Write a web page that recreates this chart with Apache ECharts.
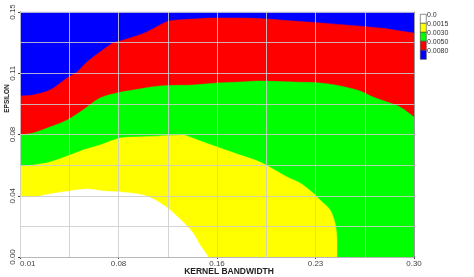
<!DOCTYPE html>
<html>
<head>
<meta charset="utf-8">
<script src="https://cdn.jsdelivr.net/npm/echarts@6/dist/echarts.min.js"></script>
<style>html,body{margin:0;padding:0;background:#fff}#c{width:474px;height:277px}</style>
</head>
<body>
<div id="c"></div>
<script>
// Tick values and labels
var xTickValues = [0.01, 0.0825, 0.155, 0.2275, 0.30];
var xTickLabels = ['0.01', '0.08', '0.16', '0.23', '0.30'];
var yTickValues = [0, 0.0375, 0.075, 0.1125, 0.15];
var yTickLabels = ['0.00', '0.04', '0.08', '0.11', '0.15'];

// Contour legend levels (lower bound of each band) and colours
var levelLabels = ['0.0', '0.0015', '0.0030', '0.0050', '0.0080'];
var levelColors = ['#ffffff', '#ffff00', '#00ff00', '#ff0000', '#0000ff'];

// Upper boundary of each band, [kernel bandwidth, epsilon]
var blueTop = [[0.01, 0.15], [0.30, 0.15]];
var redTop = [[0.01,0.0986],[0.0196,0.0992],[0.0321,0.1022],[0.0446,0.1096],[0.0520,0.1133],[0.0593,0.1194],[0.0689,0.1255],[0.0784,0.1310],[0.0836,0.1322],[0.0932,0.1347],[0.1035,0.1378],[0.1130,0.1420],[0.1197,0.1445],[0.1373,0.1457],[0.1550,0.1463],[0.1719,0.1463],[0.1918,0.1457],[0.2109,0.1445],[0.2308,0.1433],[0.2750,0.1402],[0.2897,0.1384],[0.30,0.1371]];
var greenTop = [[0.01,0.0747],[0.0196,0.0759],[0.0321,0.0796],[0.0446,0.0838],[0.0564,0.0900],[0.0689,0.0973],[0.0814,0.1004],[0.0932,0.1022],[0.1130,0.1047],[0.1373,0.1053],[0.1550,0.1065],[0.1719,0.1071],[0.1866,0.1077],[0.2109,0.1071],[0.2308,0.1065],[0.2455,0.1047],[0.2602,0.1016],[0.2698,0.0979],[0.2801,0.0949],[0.2897,0.0918],[0.30,0.0857]];
var yellowTop = [[0.01,0.0557],[0.0196,0.0563],[0.0321,0.0581],[0.0468,0.0624],[0.0564,0.0655],[0.0689,0.0685],[0.0836,0.0728],[0.0932,0.0734],[0.1108,0.0740],[0.1300,0.0747],[0.1351,0.0734],[0.1447,0.0704],[0.1572,0.0667],[0.1719,0.0624],[0.1866,0.0581],[0.2065,0.0490],[0.2161,0.0453],[0.2256,0.0392],[0.2308,0.0349],[0.2382,0.0288],[0.2418,0.0208],[0.2433,0.0104],[0.2433,0]];
var whiteTop = [[0.01,0.0367],[0.0196,0.0367],[0.0321,0.0386],[0.0468,0.0404],[0.0593,0.0416],[0.0711,0.0404],[0.0836,0.0398],[0.1005,0.0379],[0.1108,0.0343],[0.1204,0.0288],[0.1300,0.0214],[0.1373,0.0147],[0.1425,0.0073],[0.1476,0.0012],[0.1484,0]];

var chart = echarts.init(document.getElementById('c'), null, {renderer: 'canvas'});
var font = 'Liberation Sans, Arial, sans-serif';

function band(data, color, z) {
  return {
    type: 'line', data: data, xAxisIndex: 0, yAxisIndex: 0,
    showSymbol: false, symbol: 'none', silent: true, animation: false,
    smooth: 0.3,
    lineStyle: {width: 0.5, color: color},
    areaStyle: {color: color, opacity: 1, origin: 'start'},
    z: z
  };
}
function lookup(vals, labs, v) {
  var best = 0;
  for (var i = 1; i < vals.length; i++) if (Math.abs(vals[i] - v) < Math.abs(vals[best] - v)) best = i;
  return labs[best];
}

var graphics = [];
for (var i = 0; i < levelLabels.length; i++) {
  graphics.push({type: 'rect', left: 420, top: 14 + 9 * i, shape: {width: 6, height: 9},
    style: {fill: levelColors[i], stroke: '#444', lineWidth: 0.6}, z: 100});
  graphics.push({type: 'text', left: 427, top: 11.5 + 9 * i,
    style: {text: levelLabels[i], font: '7px ' + font, fill: '#333'}, z: 100});
}

chart.setOption({
  animation: false,
  backgroundColor: '#fff',
  grid: {left: 20, right: 60, top: 12, bottom: 20, containLabel: false, outerBoundsMode: 'none'},
  graphic: graphics,
  xAxis: [{
    type: 'value', min: 0.01, max: 0.30,
    name: 'KERNEL BANDWIDTH', nameLocation: 'middle', nameGap: 10, nameMoveOverlap: false,
    nameTextStyle: {fontFamily: font, fontSize: 8.5, fontWeight: 'bold', color: '#222', padding: [0, 0, 0, 24]},
    axisLine: {show: true, lineStyle: {color: '#444', width: 1}},
    axisTick: {show: true, length: 2, customValues: xTickValues, lineStyle: {color: '#444'}},
    axisLabel: {show: true, customValues: xTickValues, alignMinLabel: 'left', fontFamily: font, fontSize: 8, color: '#444', margin: 3,
      formatter: function (v) { return lookup(xTickValues, xTickLabels, v); }},
    splitLine: {show: false}
  }, {
    type: 'value', min: 0, max: 8, interval: 1, show: true, z: 10,
    axisLine: {show: false}, axisTick: {show: false}, axisLabel: {show: false},
    splitLine: {show: true, lineStyle: {color: 'rgba(205,205,205,0.85)', width: 1}}
  }],
  yAxis: [{
    type: 'value', min: 0, max: 0.15,
    name: 'EPSILON', nameLocation: 'middle', nameGap: 9, nameRotate: 90, nameMoveOverlap: false,
    nameTextStyle: {fontFamily: font, fontSize: 6.5, fontWeight: 'bold', color: '#222', padding: [0, 0, 0, 72]},
    axisLine: {show: true, lineStyle: {color: '#444', width: 1}},
    axisTick: {show: true, length: 2, customValues: yTickValues, lineStyle: {color: '#444'}},
    axisLabel: {show: true, customValues: yTickValues, rotate: 90, fontFamily: font, fontSize: 8, color: '#444', margin: 3,
      formatter: function (v) { return lookup(yTickValues, yTickLabels, v); }},
    splitLine: {show: false}
  }, {
    type: 'value', min: 0, max: 8, interval: 1, show: true, z: 10, position: 'right',
    axisLine: {show: true, lineStyle: {color: '#999', width: 1}}, axisTick: {show: false}, axisLabel: {show: false},
    splitLine: {show: true, lineStyle: {color: 'rgba(205,205,205,0.85)', width: 1}}
  }],
  series: [
    band(blueTop, levelColors[4], 2),
    band(redTop, levelColors[3], 3),
    band(greenTop, levelColors[2], 4),
    band(yellowTop, levelColors[1], 5),
    band(whiteTop, levelColors[0], 6)
  ]
});
</script>
</body>
</html>
